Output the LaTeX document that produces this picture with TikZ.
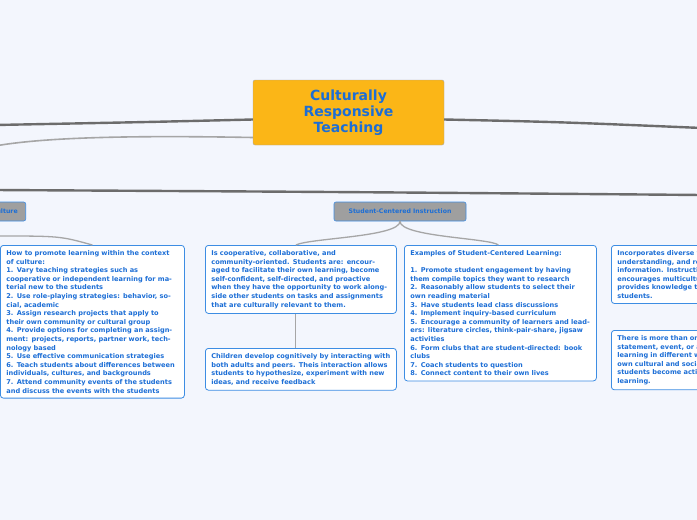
\documentclass[tikz,border=0pt]{standalone}
\usepackage{fontspec}
\setmainfont{DejaVu Sans}
\begin{document}
\begin{tikzpicture}[x=1pt,y=-1pt,
 txt/.style={text=tblue,font=\bfseries\fontsize{6.6}{8.6}\selectfont},
 card/.style={txt,draw=bblue,line width=0.8pt,fill=white,rounded corners=3pt,anchor=north west,align=left,inner xsep=6pt,inner ysep=5pt},
 topic/.style={txt,draw=bblue,line width=0.6pt,fill=gray!75,rounded corners=2pt,minimum height=19pt,inner xsep=8pt,font=\bfseries\fontsize{6.2}{8}\selectfont},
 conn/.style={draw=gray!70,line width=1.3pt},
 thick conn/.style={draw=gray!85!black,line width=2.4pt}]
\definecolor{tblue}{HTML}{1C6ED6}
\definecolor{bblue}{HTML}{3D8DE3}
\definecolor{bg}{HTML}{F3F6FD}
\definecolor{gold}{HTML}{FBB617}
\fill[bg] (0,0) rectangle (697,520);
\useasboundingbox (0,0) rectangle (697,520);
\begin{scope}
\clip (0,0) rectangle (697,520);
\node[draw=gray!70,fill=gold,rounded corners=2pt,minimum width=191pt,minimum height=65pt,align=center,text=tblue,font=\bfseries\fontsize{14}{16}\selectfont] (c) at (348.5,112.5) {Culturally\\Responsive\\Teaching};
\coordinate (l1) at (-5,125); \coordinate (l2) at (-5,146); \coordinate (r1) at (702,128);
\coordinate (hl) at (-5,190); \coordinate (hr) at (702,195);
\draw[thick conn] (c.west) ++(0,7) coordinate (cw1) (cw1) .. controls (150,122) .. (l1);
\draw[conn,line width=1.6pt] (c.west) ++(0,25) coordinate (cw2) (cw2) .. controls (120,135) and (40,138) .. (l2);
\draw[thick conn] (c.east) ++(0,7) coordinate (ce1) (ce1) .. controls (560,122) .. (r1);
\draw[thick conn] (hl) .. controls (350,192) .. (hr);
\node[topic,anchor=east] (lt) at (26,211.5) {Learning within Culture};
\node[topic,minimum width=132pt] (sc) at (400,211.5) {Student-Centered Instruction};
\node[card,text width=172pt] (b1) at (0,245) {How to promote learning within the context of culture:\\
1. Vary teaching strategies such as\\ cooperative or independent learning for material new to the students\\
2. Use role-playing strategies: behavior, social, academic\\
3. Assign research projects that apply to their own community or cultural group\\
4. Provide options for completing an assignment: projects, reports, partner work, technology based\\
5. Use effective communication strategies\\
6. Teach students about differences between individuals, cultures, and backgrounds\\
7. Attend community events of the students and discuss the events with the students};
\node[card,text width=179pt] (b2) at (205,245) {Is cooperative, collaborative, and\\ community-oriented. Students are: encouraged to facilitate their own learning, become self-confident, self-directed, and proactive when they have the opportunity to work alongside other students on tasks and assignments that are culturally relevant to them.};
\node[card,text width=179pt] (b3) at (205,348) {Children develop cognitively by interacting with both adults and peers. Theis interaction allows students to hypothesize, experiment with new ideas, and receive feedback};
\node[card,text width=180pt] (b4) at (404,245) {Examples of Student-Centered Learning:\\[8.6pt]
1. Promote student engagement by having them compile topics they want to research\\
2. Reasonably allow students to select their own reading material\\
3. Have students lead class discussions\\
4. Implement inquiry-based curriculum\\
5. Encourage a community of learners and leaders: literature circles, think-pair-share, jigsaw activities\\
6. Form clubs that are student-directed: book clubs\\
7. Coach students to question\\
8. Connect content to their own lives};
\node[card,text width=175pt] (b5) at (611,245) {Incorporates diverse ways of\\ understanding, and representing\\ information. Instruction that\\ encourages multicultural awareness\\ provides knowledge to all the\\ students.};
\node[card,text width=175pt] (b6) at (611,330) {There is more than one way to\\ statement, event, or action.\\ learning in different ways\\ own cultural and social identity\\ students become active in their\\ learning.};
\draw[conn] (sc.south) .. controls (400,237) and (310,238) .. ([xshift=-5pt]b2.north);
\draw[conn] (sc.south) .. controls (400,237) and (490,238) .. ([xshift=-2pt]b4.north);
\draw[conn] (-5,236) .. controls (60,236) .. ([xshift=0pt]b1.north);
\draw[conn,line width=1pt] ([xshift=-5pt]b2.south) -- ([xshift=-5pt]b3.north);
\end{scope}
\end{tikzpicture}
\end{document}
